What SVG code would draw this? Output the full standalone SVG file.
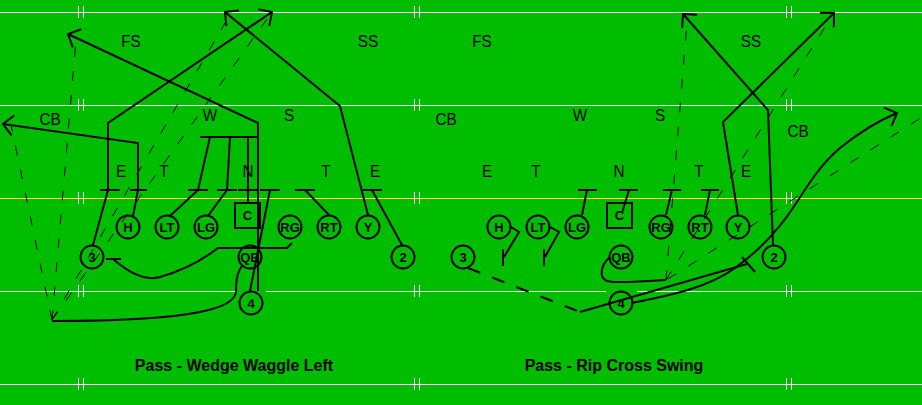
<svg xmlns="http://www.w3.org/2000/svg" width="922" height="405" viewBox="0 0 922 405">
<style>
.bg{fill:#00BD00}
.yw{stroke:#fff;stroke-width:1;fill:none}
.yy{stroke:#ffff40;stroke-width:1;fill:none}
.r{fill:none;stroke:#000;stroke-width:2;stroke-linejoin:miter}
.d{fill:none;stroke:#000;stroke-width:1;stroke-dasharray:10 14}
.dt{fill:none;stroke:#000;stroke-width:2;stroke-dasharray:13 13}
.p{fill:#00BD00;stroke:#000;stroke-width:2}
.pt{font-family:"Liberation Sans",Arial,sans-serif;font-size:13px;font-weight:bold;text-anchor:middle;fill:#000}
.dl{font-family:"Liberation Sans",Arial,sans-serif;font-size:17px;text-anchor:middle;fill:#000}
.tt{font-family:"Liberation Sans",Arial,sans-serif;font-size:16px;font-weight:bold;text-anchor:middle;fill:#000}
</style>
<defs>
<marker id="ah" markerUnits="userSpaceOnUse" viewBox="-14 -14 28 28" markerWidth="28" markerHeight="28" refX="0" refY="0" orient="auto" overflow="visible">
<path d="M-10,-10 L0,0 L-10,10" fill="none" stroke="#000" stroke-width="2"/>
</marker>
</defs>
<rect class="bg" x="0" y="0" width="922" height="405"/>
<g id="field">
<path class="yw" d="M0,12.5H922M0,105.5H922M0,291.5H235M266,291.5H606M637,291.5H922M0,384.5H922"/>
<path class="yy" d="M0,198.5H922"/>
<path class="yw" d="M78.5,6V18M83.5,6V18M414.5,6V18M419.5,6V18M786.5,6V18M791.5,6V18
M78.5,99V111M83.5,99V111M414.5,99V111M419.5,99V111M786.5,99V111M791.5,99V111
M78.5,192V204M83.5,192V204M414.5,192V204M419.5,192V204M786.5,192V204M791.5,192V204
M78.5,285V297M83.5,285V297M414.5,285V297M419.5,285V297M786.5,285V297M791.5,285V297
M78.5,378V390M83.5,378V390M414.5,378V390M419.5,378V390M786.5,378V390M791.5,378V390"/>
</g>
<g id="titles">
<text class="tt" x="234" y="371">Pass - Wedge Waggle Left</text>
<text class="tt" x="614" y="371">Pass - Rip Cross Swing</text>
</g>
<g id="defense">
<g id="dl-FS"><text class="dl" transform="translate(131,47) scale(0.9,1)">FS</text></g>
<g id="dl-SS"><text class="dl" transform="translate(368,47) scale(0.9,1)">SS</text></g>
<g id="dl-CB"><text class="dl" transform="translate(50,125) scale(0.9,1)">CB</text></g>
<g id="dl-W"><text class="dl" transform="translate(210,121) scale(0.9,1)">W</text></g>
<g id="dl-S"><text class="dl" transform="translate(289,121) scale(0.9,1)">S</text></g>
<g id="dl-E1"><text class="dl" transform="translate(121,177) scale(0.9,1)">E</text></g>
<g id="dl-T1"><text class="dl" transform="translate(164,177) scale(0.9,1)">T</text></g>
<g id="dl-N"><text class="dl" transform="translate(248,177) scale(0.9,1)">N</text></g>
<g id="dl-T2"><text class="dl" transform="translate(326,177) scale(0.9,1)">T</text></g>
<g id="dl-E2"><text class="dl" transform="translate(375,177) scale(0.9,1)">E</text></g>
<g id="dr-FS"><text class="dl" transform="translate(482,47) scale(0.9,1)">FS</text></g>
<g id="dr-SS"><text class="dl" transform="translate(751,47) scale(0.9,1)">SS</text></g>
<g id="dr-CB1"><text class="dl" transform="translate(446,125) scale(0.9,1)">CB</text></g>
<g id="dr-W"><text class="dl" transform="translate(580,121) scale(0.9,1)">W</text></g>
<g id="dr-S"><text class="dl" transform="translate(660,121) scale(0.9,1)">S</text></g>
<g id="dr-CB2"><text class="dl" transform="translate(798,137) scale(0.9,1)">CB</text></g>
<g id="dr-E1"><text class="dl" transform="translate(487,177) scale(0.9,1)">E</text></g>
<g id="dr-T1"><text class="dl" transform="translate(536,177) scale(0.9,1)">T</text></g>
<g id="dr-N"><text class="dl" transform="translate(619,177) scale(0.9,1)">N</text></g>
<g id="dr-T2"><text class="dl" transform="translate(699,177) scale(0.9,1)">T</text></g>
<g id="dr-E2"><text class="dl" transform="translate(746,177) scale(0.9,1)">E</text></g>
</g>
<g id="offense">
<g id="ol-H"><circle class="p" cx="128" cy="227" r="11.5"/><text class="pt" x="128" y="231.7">H</text></g>
<g id="ol-LT"><circle class="p" cx="167" cy="227" r="11.5"/><text class="pt" x="167" y="231.7">LT</text></g>
<g id="ol-LG"><circle class="p" cx="206" cy="227" r="11.5"/><text class="pt" x="206" y="231.7">LG</text></g>
<g id="ol-C"><rect class="p" x="235" y="203" width="25" height="25"/><text class="pt" x="247.5" y="220">C</text></g>
<g id="ol-RG"><circle class="p" cx="290" cy="227" r="11.5"/><text class="pt" x="290" y="231.7">RG</text></g>
<g id="ol-RT"><circle class="p" cx="329" cy="227" r="11.5"/><text class="pt" x="329" y="231.7">RT</text></g>
<g id="ol-Y"><circle class="p" cx="368" cy="227" r="11.5"/><text class="pt" x="368" y="231.7">Y</text></g>
<g id="ol-3"><circle class="p" cx="92" cy="257" r="11.5"/><text class="pt" x="92" y="261.7">3</text></g>
<g id="ol-QB"><circle class="p" cx="250" cy="257" r="11.5"/><text class="pt" x="250" y="261.7">QB</text></g>
<g id="ol-4"><circle class="p" cx="251" cy="303" r="11.5"/><text class="pt" x="251" y="307.7">4</text></g>
<g id="ol-2"><circle class="p" cx="403" cy="257" r="11.5"/><text class="pt" x="403" y="261.7">2</text></g>
<g id="or-H"><circle class="p" cx="499" cy="227" r="11.5"/><text class="pt" x="499" y="231.7">H</text></g>
<g id="or-LT"><circle class="p" cx="538" cy="227" r="11.5"/><text class="pt" x="538" y="231.7">LT</text></g>
<g id="or-LG"><circle class="p" cx="577" cy="227" r="11.5"/><text class="pt" x="577" y="231.7">LG</text></g>
<g id="or-C"><rect class="p" x="607" y="203" width="25" height="25"/><text class="pt" x="619.5" y="220">C</text></g>
<g id="or-RG"><circle class="p" cx="661" cy="227" r="11.5"/><text class="pt" x="661" y="231.7">RG</text></g>
<g id="or-RT"><circle class="p" cx="700" cy="227" r="11.5"/><text class="pt" x="700" y="231.7">RT</text></g>
<g id="or-Y"><circle class="p" cx="738" cy="227" r="11.5"/><text class="pt" x="738" y="231.7">Y</text></g>
<g id="or-3"><circle class="p" cx="463" cy="257" r="11.5"/><text class="pt" x="463" y="261.7">3</text></g>
<g id="or-QB"><circle class="p" cx="621" cy="257" r="11.5"/><text class="pt" x="621" y="261.7">QB</text></g>
<g id="or-4"><circle class="p" cx="621" cy="303" r="11.5"/><text class="pt" x="621" y="307.7">4</text></g>
<g id="or-2"><circle class="p" cx="774" cy="257" r="11.5"/><text class="pt" x="774" y="261.7">2</text></g>
</g>
<g id="connectors">
<!-- left play -->
<path class="r" d="M93,245L108,190L108,123L272,12" marker-end="url(#ah)"/>
<path class="r" d="M100,190H120"/>
<path class="r" d="M133,216L138,190L138,143L3,124" marker-end="url(#ah)"/>
<path class="r" d="M130,190H147"/>
<path class="r" d="M170,216L198,190L210,137"/>
<path class="r" d="M188,190H208"/>
<path class="r" d="M208,216L227,190L230,137"/>
<path class="r" d="M217,190H237"/>
<path class="r" d="M248,203V137"/>
<path class="r" d="M238,190H257"/>
<path class="r" d="M200,137H258"/>
<path class="r" d="M258,291V123L68,34" marker-end="url(#ah)"/>
<path class="r" d="M250,291L270,190"/>
<path class="r" d="M260,190H280"/>
<path class="r" d="M329,215L305,190"/>
<path class="r" d="M295,190H315"/>
<path class="r" d="M368,215L340,106L225,12" marker-end="url(#ah)"/>
<path class="r" d="M402,245L372,190"/>
<path class="r" d="M363,190H382"/>
<path class="r" d="M292,243L287,248L218,248C205,258 185,270 160,277C150,280 135,278 113,259"/>
<path class="r" d="M106,259H121"/>
<path class="r" d="M242,266C236,274 236,284 236,292C235,302 220,308 200,312C170,318 130,321 52,321"/>
<path class="d" d="M52,320L11,125M52,320L76,40M52,320L228,18M52,320L272,12"/>
<!-- right play -->
<path class="dt" d="M468,268L580,312"/>
<path class="r" d="M580,312L747,264"/>
<path class="r" d="M742,257L755,272"/>
<path class="r" d="M511,227L519,232L504,257"/>
<path class="r" d="M503,249V266"/>
<path class="r" d="M550,227L559,232L545,257"/>
<path class="r" d="M544,249V266"/>
<path class="r" d="M582,215L587,190"/>
<path class="r" d="M578,190H597"/>
<path class="r" d="M622,213L629,190"/>
<path class="r" d="M619,190H638"/>
<path class="r" d="M666,215L672,190"/>
<path class="r" d="M663,190H681"/>
<path class="r" d="M705,215L710,190"/>
<path class="r" d="M701,190H719"/>
<path class="r" d="M738,215L723,122L834,13" marker-end="url(#ah)"/>
<path class="r" d="M773,245L768,110L683,14" marker-end="url(#ah)"/>
<path class="r" d="M632,303C660,297 705,290 735,268C760,250 780,228 795,205C808,185 820,165 840,148C860,132 880,120 897,113" marker-end="url(#ah)"/>
<path class="r" d="M609,258C601,265 600,275 604,279C608,283 616,282 630,282L666,280"/>
<path class="d" d="M666,280L687,22M666,280L832,16M668,279L930,112"/>
</g>
</svg>
